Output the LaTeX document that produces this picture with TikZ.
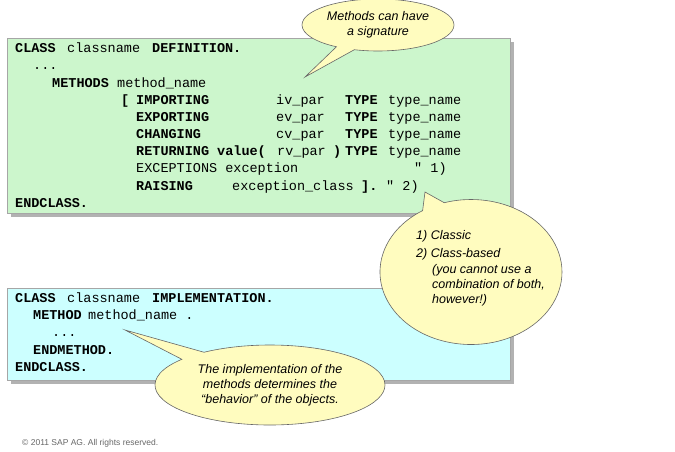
\documentclass[tikz,border=0pt]{standalone}
\usepackage{fontspec}
\setmainfont{Liberation Sans}
\setmonofont{Liberation Mono}
\usetikzlibrary{shapes.callouts}
\begin{document}
\begin{tikzpicture}[x=1pt,y=-1pt,
  c/.style={anchor=base west,inner sep=0,yshift=-4.5pt,font=\ttfamily\fontsize{13.5}{14}\selectfont},
  k/.style={c,font=\ttfamily\bfseries\fontsize{13.5}{14}\selectfont},
  codebox/.style={draw=black!35,line width=0.6pt},
  bubble/.style={ellipse callout,draw=black!60,fill=yellow!25,line width=0.6pt,inner sep=0},
  btxt/.style={font=\itshape\fontsize{12.5}{15}\selectfont,inner sep=0}]
\useasboundingbox (0,0) rectangle (675,451);
% boxes
\fill[black!30] (11,42) rectangle (514,217);
\node[codebox,fill={rgb,255:red,204;green,246;blue,204},minimum width=503pt,minimum height=175pt,anchor=north west,inner sep=0] (defbox) at (7,38) {};
\fill[black!30] (11,292) rectangle (514,384);
\node[codebox,fill={rgb,255:red,204;green,255;blue,255},minimum width=503pt,minimum height=92pt,anchor=north west,inner sep=0] (impbox) at (7,288) {};
% definition code
\node[k] (t1) at (15,48) {CLASS}; \node[c] (t2) at (67,48) {classname}; \node[k] (t3) at (152,48) {DEFINITION.};
\node[c] (t4) at (33,65) {...};
\node[k] (t5) at (52,83) {METHODS}; \node[c] (t6) at (117,83) {method\_name};
\node[k] (b1) at (121,100) {[};
\node[k] (i1) at (136,100) {IMPORTING}; \node[c] (i2) at (276,100) {iv\_par}; \node[k] (i3) at (345,100) {TYPE}; \node[c] (i4) at (388,100) {type\_name};
\node[k] (e1) at (136,117) {EXPORTING}; \node[c] (e2) at (276,117) {ev\_par}; \node[k] (e3) at (345,117) {TYPE}; \node[c] (e4) at (388,117) {type\_name};
\node[k] (h1) at (136,134) {CHANGING}; \node[c] (h2) at (276,134) {cv\_par}; \node[k] (h3) at (345,134) {TYPE}; \node[c] (h4) at (388,134) {type\_name};
\node[k] (r1) at (136,151) {RETURNING value(}; \node[c] (r2) at (277,151) {rv\_par}; \node[k] (r3) at (333,151) {)}; \node[k] (r4) at (345,151) {TYPE}; \node[c] (r5) at (388,151) {type\_name};
\node[c] (x1) at (136,168) {EXCEPTIONS exception}; \node[c] (x2) at (414,168) {" 1)};
\node[k] (s1) at (136,186) {RAISING}; \node[c] (s2) at (232,186) {exception\_class}; \node[k] (s3) at (361,186) {].}; \node[c] (s4) at (386,186) {" 2)};
\node[k] (t7) at (15,203) {ENDCLASS.};
% implementation code
\node[k] (m1) at (15,298) {CLASS}; \node[c] (m2) at (67,298) {classname}; \node[k] (m3) at (152,298) {IMPLEMENTATION.};
\node[k] (m4) at (33,315) {METHOD}; \node[c] (m5) at (88,315) {method\_name .};
\node[c] (m6) at (52,332) {...};
\node[k] (m7) at (33,350) {ENDMETHOD.};
\node[k] (m8) at (15,367) {ENDCLASS.};
% callouts
\node[bubble,minimum width=152pt,minimum height=52pt,callout absolute pointer={(305,77)}] (c1) at (378,25) {};
\node[btxt,align=center] (c1t) at (378,25) {Methods can have\\a signature};
\node[bubble,minimum width=182pt,minimum height=145pt,callout absolute pointer={(425,192)}] (c2) at (471,272) {};
\node[btxt,anchor=west] (c2a) at (416,236) {1) Classic};
\node[btxt,anchor=west] (c2b) at (416,254) {2) Class-based};
\node[btxt,anchor=north west,align=left] (c2c) at (432,264) {(you cannot use a\\combination of both,\\however!)};
\node[bubble,minimum width=230pt,minimum height=80pt,callout absolute pointer={(125,330)}] (c3) at (270,385) {};
\node[btxt,align=center] (c3t) at (270,385) {The implementation of the\\methods determines the\\``behavior'' of the objects.};
\node[anchor=west,inner sep=0,text=black!60,font=\fontsize{8.5}{9}\selectfont] (cr) at (22,443) {© 2011 SAP AG. All rights reserved.};
\end{tikzpicture}
\end{document}
